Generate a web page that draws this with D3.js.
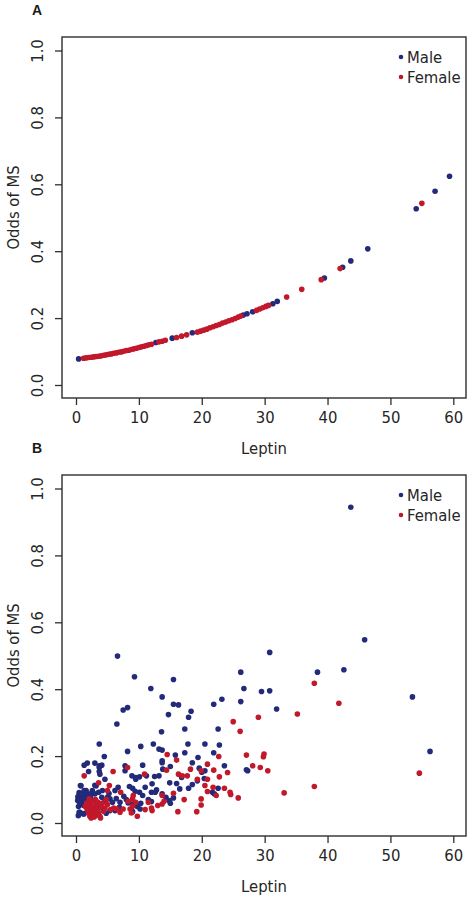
<!DOCTYPE html>
<html>
<head>
<meta charset="utf-8">
<script src="https://cdn.jsdelivr.net/npm/d3@7"></script>
<style>
    body { margin: 0; background: #fff; }
    svg text { font-family: 'Liberation Sans Narrow', 'Arial Narrow', 'DejaVu Sans Condensed', sans-serif; fill: #262626; }
</style>
</head>
<body>
<div id="chart"></div>
<script>
// panel A: fitted odds by leptin
const aMaleX = [0.42, 12.7, 15.3, 18.5, 26.6, 27.2, 28.1, 31.3, 32.0, 39.5, 42.4, 43.7, 46.4, 54.1, 57.1, 59.4];
const aMaleY = [0.078, 0.127, 0.140, 0.156, 0.209, 0.213, 0.219, 0.243, 0.250, 0.320, 0.352, 0.371, 0.407, 0.527, 0.579, 0.624];
const aFemaleX = [1.2, 1.6, 2.0, 2.4, 2.8, 3.2, 3.6, 4.0, 4.4, 4.8, 5.2, 5.6, 6.0, 6.4, 6.8, 7.2, 7.6, 8.0, 8.4, 8.8,
    9.2, 9.6, 10.0, 10.4, 10.8, 11.2, 11.6, 12.0, 13.2, 13.7, 14.2, 16.0, 16.8, 17.6, 19.3, 19.8, 20.3, 20.8, 21.3, 21.8,
    22.3, 22.8, 23.3, 23.8, 24.3, 24.8, 25.3, 25.8, 26.2, 28.7, 29.2, 29.7, 30.2, 30.6, 33.5, 35.9, 39.0, 42.0, 55.0];
const aFemaleY = [0.080, 0.081, 0.082, 0.083, 0.084, 0.085, 0.086, 0.087, 0.089, 0.090, 0.092, 0.093, 0.095, 0.096, 0.098, 0.099, 0.101, 0.103, 0.104, 0.106,
    0.108, 0.110, 0.112, 0.114, 0.116, 0.118, 0.120, 0.122, 0.129, 0.131, 0.134, 0.142, 0.146, 0.150, 0.158, 0.161, 0.164, 0.167, 0.171, 0.174,
    0.178, 0.181, 0.185, 0.188, 0.192, 0.195, 0.199, 0.203, 0.206, 0.223, 0.227, 0.231, 0.235, 0.238, 0.263, 0.286, 0.315, 0.348, 0.543];

// panel B: observed odds by leptin
const bMaleX = [43.7, 45.9, 30.8, 6.6, 42.6, 26.2, 38.4, 9.3, 15.5, 11.9, 26.7, 29.5, 30.8, 53.5, 13.7, 23.2, 26.2, 21.9, 15.5, 16.3,
    8.2, 7.5, 31.9, 18.3, 14.7, 17.9, 6.5, 17.3, 22.6, 13.6, 3.7, 12.3, 17.8, 20.5, 22.8, 10.3, 13.2, 13.7, 56.3, 8.2,
    4.5, 17.3, 15.8, 21.9, 19.4, 1.3, 1.8, 3.0, 3.7, 4.1, 7.8, 10.6, 13.7, 13.7, 15.0, 18.5, 23.6, 19.6, 20.5, 27.1,
    27.3, 2.0, 3.7, 7.8, 13.8, 3.8, 3.7, 11.2, 13.2, 8.9, 9.5, 10.1, 9.5, 20.4, 4.6, 14.9, 19.3, 12.1, 0.7, 3.0,
    8.5, 9.0, 11.0, 16.5, 17.9, 22.6, 1.6, 3.6, 6.7, 6.2, 12.8, 12.0, 12.6, 21.7, 9.4, 10.1, 13.7, 0.5, 1.06, 1.7,
    2.3, 3.0, 4.1, 5.4, 7.0, 4.6, 10.6, 14.3, 14.8, 15.0, 12.0, 10.3, 9.0, 9.75, 0.4, 0.8, 1.4, 0.64, 0.37, 1.17,
    1.8, 2.5, 5.4, 6.2, 4.8, 9.0, 10.2, 0.8, 0.5, 1.3, 1.6, 0.95, 0.27, 1.9, 2.4, 2.6, 3.2, 4.2, 5.0, 5.25,
    5.8, 6.4, 6.9, 0.5, 1.3, 0.3, 0.6, 1.1, 1.5, 0.9, 2.0, 1.2, 0.6, 2.2, 3.3, 3.9, 4.3, 8.3, 8.0, 7.6,
    11.5, 15.5, 16.0, 12.5, 16.8, 18.5, 20.0, 22.0];
const bMaleY = [0.944, 0.548, 0.510, 0.499, 0.458, 0.451, 0.451, 0.437, 0.429, 0.402, 0.402, 0.393, 0.395, 0.377, 0.377, 0.370, 0.363, 0.355, 0.355, 0.353,
    0.345, 0.338, 0.341, 0.334, 0.324, 0.316, 0.296, 0.281, 0.281, 0.273, 0.236, 0.236, 0.236, 0.236, 0.233, 0.229, 0.221, 0.218, 0.214, 0.214,
    0.199, 0.210, 0.203, 0.210, 0.196, 0.173, 0.179, 0.179, 0.171, 0.173, 0.171, 0.173, 0.186, 0.180, 0.169, 0.180, 0.171, 0.164, 0.156, 0.159,
    0.156, 0.154, 0.154, 0.156, 0.161, 0.146, 0.166, 0.141, 0.141, 0.141, 0.136, 0.138, 0.131, 0.133, 0.131, 0.120, 0.126, 0.117, 0.112, 0.113,
    0.109, 0.104, 0.107, 0.102, 0.104, 0.104, 0.097, 0.092, 0.107, 0.097, 0.099, 0.092, 0.092, 0.092, 0.095, 0.092, 0.087, 0.084, 0.082, 0.089,
    0.077, 0.087, 0.077, 0.072, 0.062, 0.067, 0.082, 0.077, 0.067, 0.059, 0.064, 0.059, 0.057, 0.049, 0.049, 0.057, 0.067, 0.032, 0.022, 0.027,
    0.042, 0.037, 0.037, 0.037, 0.029, 0.034, 0.042, 0.111, 0.091, 0.097, 0.082, 0.077, 0.067, 0.062, 0.088, 0.097, 0.111, 0.097, 0.077, 0.088,
    0.062, 0.073, 0.047, 0.032, 0.028, 0.078, 0.072, 0.066, 0.075, 0.088, 0.070, 0.052, 0.060, 0.045, 0.060, 0.050, 0.040, 0.060, 0.070, 0.080,
    0.070, 0.075, 0.118, 0.139, 0.136, 0.115, 0.152, 0.087];
const bFemaleX = [37.9, 41.8, 35.2, 29.0, 25.0, 26.1, 27.1, 29.9, 29.8, 14.5, 22.7, 16.0, 20.9, 28.1, 29.3, 30.5, 8.2, 1.3, 5.9, 14.4,
    18.2, 21.9, 24.1, 16.3, 16.9, 17.7, 22.8, 54.6, 19.9, 20.9, 19.3, 10.9, 3.6, 5.3, 20.5, 21.8, 23.6, 37.9, 33.1, 20.9,
    22.3, 24.5, 24.6, 25.8, 15.5, 19.9, 17.2, 19.9, 16.2, 19.2, 13.7, 13.7, 12.1, 11.0, 11.5, 9.75, 8.3, 9.0, 7.1, 5.0,
    7.0, 7.5, 8.6, 9.1, 1.5, 1.8, 2.0, 2.2, 2.4, 2.6, 2.8, 3.0, 3.2, 3.4, 3.6, 3.8, 4.0, 4.2, 4.4, 2.2,
    2.5, 1.9, 2.9, 3.3, 4.6, 5.0, 5.5, 6.0, 6.5, 2.7, 3.5, 4.8, 1.7, 2.1, 3.1, 3.9, 2.6, 9.0, 9.5, 8.8,
    12.0, 14.0, 13.0];
const bFemaleY = [0.418, 0.358, 0.326, 0.316, 0.303, 0.274, 0.203, 0.206, 0.198, 0.205, 0.199, 0.188, 0.176, 0.171, 0.166, 0.156, 0.166, 0.141, 0.154, 0.158,
    0.161, 0.158, 0.151, 0.146, 0.141, 0.141, 0.138, 0.149, 0.156, 0.131, 0.131, 0.146, 0.120, 0.112, 0.112, 0.107, 0.104, 0.109, 0.090, 0.094,
    0.082, 0.092, 0.085, 0.075, 0.089, 0.072, 0.070, 0.054, 0.034, 0.034, 0.082, 0.057, 0.037, 0.040, 0.062, 0.020, 0.065, 0.072, 0.092, 0.097,
    0.032, 0.042, 0.042, 0.082, 0.050, 0.040, 0.030, 0.020, 0.015, 0.025, 0.035, 0.045, 0.055, 0.040, 0.030, 0.020, 0.050, 0.060, 0.035, 0.058,
    0.065, 0.048, 0.018, 0.025, 0.045, 0.055, 0.040, 0.045, 0.042, 0.050, 0.062, 0.070, 0.060, 0.072, 0.070, 0.015, 0.042, 0.050, 0.062, 0.030,
    0.045, 0.065, 0.052];

const xTicks = [0, 10, 20, 30, 40, 50, 60];
const yTicks = [0.0, 0.2, 0.4, 0.6, 0.8, 1.0];
const seriesNames = ['Male', 'Female'];
const colors = {Male: '#232a7a', Female: '#c2182b'};

const width = 474, height = 899;
const svg = d3.select('#chart').append('svg')
    .attr('width', width)
    .attr('height', height);

function zip(xs, ys, group) {
    return xs.map((x, i) => ({x: x, y: ys[i], group}));
}

function drawPanel({top, letter, males, females}) {
    const box = {left: 62, right: 466, top: top, bottom: top + 361};

    let x = d3.scaleLinear().domain([0, 60]).range([76, 453.3]);
    let y = d3.scaleLinear().domain([0, 1]).range([box.bottom - 13, box.top + 13.5]);

    let g = svg.append('g');

    g.append('text')
        .attr('x', 32)
        .attr('y', top - 22)
        .style('font-family', 'Liberation Sans, Arial, sans-serif')
        .style('font-weight', 'bold')
        .style('font-size', '14px')
        .style('fill', '#1a1a1a')
        .text(letter);

    g.append('rect')
        .attr('x', box.left)
        .attr('y', box.top)
        .attr('width', box.right - box.left)
        .attr('height', box.bottom - box.top)
        .attr('fill', 'none')
        .attr('stroke', '#2e2e2e')
        .attr('stroke-width', 1.4);

    // x axis, ticks pointing out of the box
    let xAxis = d3.axisBottom(x).tickValues(xTicks).tickSize(7).tickPadding(6).tickFormat(d3.format('d'));
    let gx = g.append('g')
        .attr('transform', 'translate(0,' + box.bottom + ')')
        .call(xAxis);
    gx.select('.domain').remove();
    gx.selectAll('line').attr('stroke', '#2e2e2e').attr('stroke-width', 1.3);
    gx.selectAll('text').style('font-size', '16.5px').style('font-family', null).attr('fill', null);

    let yAxis = d3.axisLeft(y).tickValues(yTicks).tickSize(7).tickFormat(d3.format('.1f'));
    let gy = g.append('g')
        .attr('transform', 'translate(' + box.left + ',0)')
        .call(yAxis);
    gy.select('.domain').remove();
    gy.selectAll('line').attr('stroke', '#2e2e2e').attr('stroke-width', 1.3);
    gy.selectAll('text')
        .attr('x', null)
        .attr('dy', null)
        .attr('text-anchor', 'middle')
        .attr('transform', 'translate(-19,0)rotate(-90)')
        .style('font-size', '16.5px')
        .attr('fill', null);

    // the y title sits a little above the middle of the box
    g.append('text')
        .attr('text-anchor', 'middle')
        .attr('transform', 'translate(19,' + ((box.top + box.bottom) / 2 - 10) + ')rotate(-90)')
        .style('font-size', '16.5px')
        .text('Odds of MS');

    g.append('text')
        .attr('text-anchor', 'middle')
        .attr('x', (box.left + box.right) / 2)
        .attr('y', box.bottom + 56)
        .style('font-size', '16.5px')
        .text('Leptin');

    let points = zip(males.x, males.y, 'Male').concat(zip(females.x, females.y, 'Female'));

    g.append('g').selectAll('circle')
        .data(points)
        .enter().append('circle')
        .attr('cx', d => x(d.x))
        .attr('cy', d => y(d.y))
        .attr('r', 2.8)
        .attr('fill', d => colors[d.group]);

    let legend = g.append('g')
        .selectAll('g')
        .data(seriesNames)
        .enter().append('g')
        .attr('transform', (d, i) => 'translate(401,' + (box.top + 20 + i * 20) + ')');

    legend.append('circle')
        .attr('r', 2.3)
        .attr('fill', d => colors[d]);

    legend.append('text')
        .attr('x', 6)
        .attr('y', 6)
        .style('font-size', '16.5px')
        .text(d => d);
}

drawPanel({top: 37, letter: 'A', males: {x: aMaleX, y: aMaleY}, females: {x: aFemaleX, y: aFemaleY}});
drawPanel({top: 475, letter: 'B', males: {x: bMaleX, y: bMaleY}, females: {x: bFemaleX, y: bFemaleY}});
</script>
</body>
</html>
